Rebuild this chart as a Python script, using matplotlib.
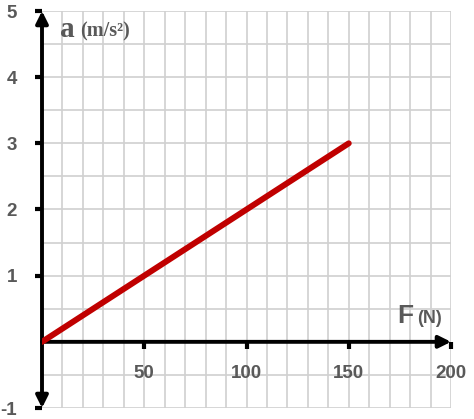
import numpy as np
from matplotlib import pyplot as plt

force = [0, 150]
accel = [0, 3]
xTicks = [50, 100, 150, 200]
yTicks = [-1, 1, 2, 3, 4, 5]
xGrid = np.arange(0, 201, 10)
yGrid = np.arange(-1, 5.01, 0.5)

gray = '#595959'
fig = plt.figure(figsize=(4.74, 4.19), dpi=100)
ax = fig.add_axes([42/474, 1-408/419, 409/474, 397/419])
ax.set_xlim(0, 200)
ax.set_ylim(-1, 5)

for x in xGrid:
    ax.axvline(x, color='#d0d0d0', linewidth=1.2, zorder=1)
for y in yGrid:
    ax.axhline(y, color='#d0d0d0', linewidth=1.2, zorder=1)

for s in ['top', 'right', 'left']:
    ax.spines[s].set_visible(False)

# axes with arrows
arrow = dict(arrowstyle='-|>', color='black', lw=2.8, mutation_scale=18,
             shrinkA=0, shrinkB=0)
ax.annotate('', xy=(200, 0), xytext=(0, 0), arrowprops=arrow, zorder=4)
ax.annotate('', xy=(0, 5), xytext=(0, 0), arrowprops=arrow, zorder=4)
ax.annotate('', xy=(0, -1), xytext=(0, 0), arrowprops=arrow, zorder=4)

ax.plot(force, accel, color='#c00000', linewidth=4.3, solid_capstyle='round', zorder=5)

ax.set_xticks(xTicks)
ax.set_xticklabels([str(t) for t in xTicks])
ax.set_yticks(yTicks)
ax.set_yticklabels([str(t) for t in yTicks])
ax.tick_params(axis='x', direction='out', length=5, width=3, pad=12,
               labelsize=13.5, labelcolor=gray, bottom=True)
ax.tick_params(axis='y', direction='out', length=5, width=3, pad=13,
               labelsize=13.5, labelcolor=gray, left=True)
ax.spines['bottom'].set_position(('data', 0))
ax.spines['bottom'].set_linewidth(0)
for lbl in ax.get_xticklabels() + ax.get_yticklabels():
    lbl.set_fontweight('bold')
    lbl.set_family('Liberation Sans')

ax.text(0.045, 0.935, 'a', transform=ax.transAxes, fontsize=21, fontweight='bold',
        family='Liberation Serif', color=gray, va='baseline')
ax.text(0.094, 0.935, '(m/s²)', transform=ax.transAxes, fontsize=14.5,
        fontweight='bold', family='Liberation Serif', color=gray, va='baseline')
ax.text(0.868, 0.214, 'F', transform=ax.transAxes, fontsize=19, fontweight='bold',
        family='Liberation Sans', color=gray, va='baseline')
ax.text(0.917, 0.214, '(N)', transform=ax.transAxes, fontsize=13, fontweight='bold',
        family='Liberation Sans', color=gray, va='baseline')

fig.savefig('out.png', dpi=100)
